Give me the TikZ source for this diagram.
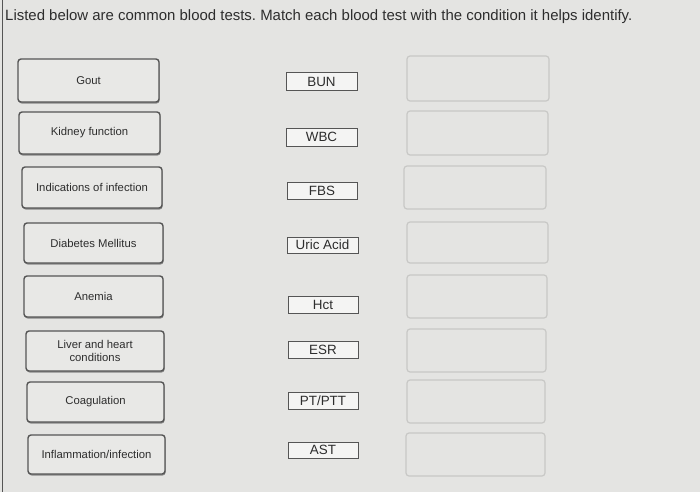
\documentclass[tikz,border=0pt]{standalone}
\usepackage{fontspec}
\setmainfont{Liberation Sans}
\usetikzlibrary{shadows}
\definecolor{bg}{RGB}{228,228,226}
\definecolor{lbfill}{RGB}{232,232,230}
\definecolor{lbdraw}{RGB}{85,85,85}
\definecolor{txt}{RGB}{45,45,45}
\definecolor{rbdraw}{RGB}{200,200,198}
\frenchspacing
\tikzset{
  condbox/.style={draw=lbdraw, line width=1.4pt, fill=lbfill, rounded corners=3pt,
    inner sep=0pt, outer sep=0pt, align=center, text=txt,
    font=\fontsize{11.3}{13}\selectfont,
    drop shadow={shadow xshift=0.6pt, shadow yshift=-1.5pt, fill=black!70, opacity=0.6}},
  testbox/.style={draw=lbdraw, line width=1pt, fill=white!60!bg, inner sep=0pt, outer sep=0pt,
    text=txt, font=\fontsize{13.4}{15}\selectfont},
  dropbox/.style={draw=rbdraw, line width=1.2pt, fill=bg, rounded corners=3pt, inner sep=0pt, outer sep=0pt}
}
\begin{document}
\begin{tikzpicture}[x=1pt,y=-1pt]
\fill[bg] (0,0) rectangle (700,492);
\useasboundingbox (0,0) rectangle (700,492);
\draw[lbdraw, line width=1pt] (2,0) -- (2,492);
\node[anchor=west, text=txt, inner sep=0pt, font=\fontsize{14.95}{16}\selectfont] (title) at (5,17)
  {Listed below are common blood tests. Match each blood test with the condition it helps identify.};
% conditions
\node[condbox, minimum width=141pt, minimum height=43pt] (gout) at (88.5,80.5) {Gout};
\node[condbox, minimum width=141pt, minimum height=42pt] (kidney) at (89.5,133) {Kidney function};
\node[condbox, minimum width=140pt, minimum height=41pt] (infect) at (92,187.5) {Indications of infection};
\node[condbox, minimum width=139pt, minimum height=40pt] (diab) at (93.5,243) {Diabetes Mellitus};
\node[condbox, minimum width=139pt, minimum height=41pt] (anemia) at (93.5,296.5) {Anemia};
\node[condbox, minimum width=138pt, minimum height=40pt] (liver) at (95,351) {Liver and heart\\conditions};
\node[condbox, minimum width=137pt, minimum height=40pt] (coag) at (95.5,402) {Coagulation};
\node[condbox, minimum width=137pt, minimum height=39pt] (inflam) at (96.5,454.5) {Inflammation/infection};
% tests
\node[testbox, minimum width=71pt, minimum height=18pt] (bun) at (321.5,82) {BUN};
\node[testbox, minimum width=71pt, minimum height=18pt] (wbc) at (321.5,137) {WBC};
\node[testbox, minimum width=70pt, minimum height=17pt] (fbs) at (322,190.5) {FBS};
\node[testbox, minimum width=71pt, minimum height=16pt] (uric) at (322.5,245) {Uric Acid};
\node[testbox, minimum width=70pt, minimum height=17pt] (hct) at (323,304.5) {Hct};
\node[testbox, minimum width=70pt, minimum height=17pt] (esr) at (323,349.5) {ESR};
\node[testbox, minimum width=70pt, minimum height=17pt] (pt) at (323,400.5) {PT/PTT};
\node[testbox, minimum width=70pt, minimum height=16pt] (ast) at (323,450) {AST};
% drop targets
\node[dropbox, minimum width=142pt, minimum height=45pt] (r1) at (478,78.5) {};
\node[dropbox, minimum width=141pt, minimum height=44pt] (r2) at (477.5,133) {};
\node[dropbox, minimum width=142pt, minimum height=43pt] (r3) at (475,187.5) {};
\node[dropbox, minimum width=141pt, minimum height=41pt] (r4) at (477.5,242.5) {};
\node[dropbox, minimum width=140pt, minimum height=43pt] (r5) at (477,296.5) {};
\node[dropbox, minimum width=139pt, minimum height=43pt] (r6) at (476.5,350.5) {};
\node[dropbox, minimum width=138pt, minimum height=43pt] (r7) at (476,401.5) {};
\node[dropbox, minimum width=139pt, minimum height=43pt] (r8) at (475.5,454.5) {};
\end{tikzpicture}
\end{document}
